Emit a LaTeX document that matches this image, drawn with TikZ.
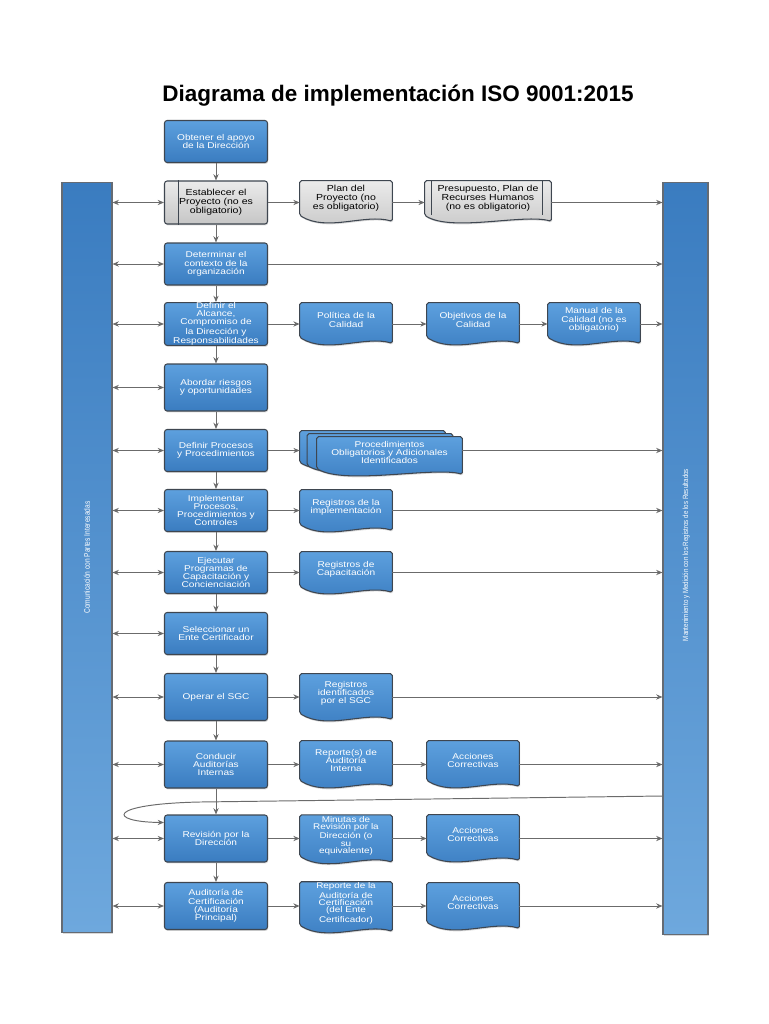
\documentclass[tikz,border=0pt]{standalone}
\usepackage{fontspec}
\setmainfont{Liberation Sans}
\newfontfamily\etire[FakeStretch=1.2]{Liberation Sans}
\newfontfamily\serre[FakeStretch=0.82]{Liberation Sans}
\usetikzlibrary{arrows.meta,shadows,backgrounds}

\definecolor{bleuhaut}{HTML}{5DA0DE}
\definecolor{bleubas}{HTML}{3A7CC0}
\definecolor{bleuclair}{HTML}{6EA8DD}
\definecolor{bord}{HTML}{3E4650}
\definecolor{fleche}{HTML}{6B6B6B}
\definecolor{grisclair}{HTML}{EBEBEB}
\definecolor{grisfonce}{HTML}{C6C6C6}

\newcommand{\petit}{\etire\fontsize{4.8}{4.7}\selectfont}
\newcommand{\serrepetit}{\etire\fontsize{4.7}{4.1}\selectfont}
\newcommand{\moyen}{\etire\fontsize{5.0}{5.1}\selectfont}

% feuille avec le bas en vague
\newcommand{\papier}[2][forme]{%
  \draw[#1] (#2.north west) -- (#2.north east) -- ([yshift=-0.12cm]#2.south east)
    .. controls ([xshift=-0.55cm,yshift=0.04cm]#2.south east) and ([xshift=0.55cm,yshift=-0.34cm]#2.south west)
    .. (#2.south west) -- cycle;}

\begin{document}
\begin{tikzpicture}[x=0.02cm,y=-0.02cm]
\tikzstyle{lien}=[->,>={Stealth[length=3.6pt,width=3pt]},draw=fleche,line width=0.55pt]
\tikzstyle{lien2}=[lien,<->]
\tikzset{ombre/.style={drop shadow={opacity=0.3,shadow xshift=0.4pt,shadow yshift=-0.8pt}},
etape/.style={draw=bord,line width=0.6pt,rounded corners=1.5pt,top color=bleuhaut,bottom color=bleubas,
  text=white,font=\petit,align=center,inner sep=0pt,minimum width=2.06cm,minimum height=#1,ombre},
etape/.default={0.84cm},
etapegrise/.style={etape=#1,top color=grisclair,bottom color=grisfonce,text=black,font=\moyen},
etapegrise/.default={0.86cm},
doc/.style={text=white,font=\petit,align=center,inner sep=0.5pt,minimum width=#1,minimum height=0.68cm},
doc/.default={1.84cm},
docgris/.style={doc=#1,text=black,font=\moyen},
docgris/.default={1.84cm},
forme/.style={draw=bord,line width=0.6pt,rounded corners=1pt,top color=bleuhaut,bottom color=bleubas,ombre},
formegris/.style={forme,top color=grisclair,bottom color=grisfonce},
barre/.style={draw=bord!80,line width=0.6pt,top color=bleubas,bottom color=bleuclair,ombre}}

\useasboundingbox (0,0) rectangle (768,1024);

\node[font=\bfseries\fontsize{12.8}{14}\selectfont] (titre) at (398,96) {Diagrama de implementación ISO 9001:2015};

% barres laterales
\node[barre,minimum width=1cm,minimum height=15.02cm] (gauche) at (87,557.5) {};
\node[barre,minimum width=0.9cm,minimum height=15.06cm] (droite) at (685.5,558.5) {};
\node[rotate=90,text=white,font=\serre\fontsize{4.6}{5}\selectfont] (txtgauche) at (gauche) {Comunicación con Partes Interesadas};
\node[rotate=90,text=white,font=\serre\fontsize{4.3}{5}\selectfont] (txtdroite) at (686,555) {Mantenimiento y Medición con los Registros de los Resultados};

% colonne principale
\node[etape] (obtenir) at (216,141.5) {Obtener el apoyo\\de la Dirección};
\node[etapegrise] (etablir) at (216,202.5) {Establecer el\\Proyecto (no es\\obligatorio)};
\node[etape] (contexte) at (216,264) {Determinar el\\contexto de la\\organización};
\node[etape,font=\etire\fontsize{4.8}{4.45}\selectfont] (alcance) at (216,324) {Definir el\\Alcance,\\Compromiso de\\la Dirección y\\Responsabilidades};
\node[etape=0.94cm] (risques) at (216,387.5) {Abordar riesgos\\y oportunidades};
\node[etape] (procedes) at (216,450.5) {Definir Procesos\\y Procedimientos};
\node[etape] (implementer) at (216,510.5) {Implementar\\Procesos,\\Procedimientos y\\Controles};
\node[etape] (executer) at (216,572.5) {Ejecutar\\Programas de\\Capacitación y\\Concienciación};
\node[etape] (selection) at (216,633.5) {Seleccionar un\\Ente Certificador};
\node[etape=0.94cm] (operer) at (216,697) {Operar el SGC};
\node[etape=0.94cm] (conduire) at (216,764.5) {Conducir\\Auditorías\\Internas};
\node[etape=0.94cm] (revision) at (216,838.5) {Revisión por la\\Dirección};
\node[etape=0.94cm] (certif) at (216,906) {Auditoría de\\Certificación\\(Auditoría\\Principal)};

% documents
\node[docgris] (plan) at (346,198) {Plan del\\Proyecto (no\\es obligatorio)};
\node[docgris=2.52cm] (budget) at (488,198) {Presupuesto, Plan de\\Recurses Humanos\\(no es obligatorio)};
\node[doc] (politique) at (346,320) {Política de la\\Calidad};
\node[doc] (objectifs) at (473,320) {Objetivos de la\\Calidad};
\node[doc] (manuel) at (594,320) {Manual de la\\Calidad (no es\\obligatorio)};
\node[doc=2.9cm,minimum height=0.62cm] (proc3) at (372.5,446.5) {};
\node[doc=2.9cm,minimum height=0.62cm] (proc2) at (380,449.5) {};
\node[doc=2.9cm,minimum height=0.62cm] (proc) at (389.5,452.5) {Procedimientos\\Obligatorios y Adicionales\\Identificados};
\node[doc] (registres) at (346,507) {Registros de la\\implementación};
\node[doc] (capacitation) at (346,569) {Registros de\\Capacitación};
\node[doc,minimum height=0.78cm] (identifies) at (346,693.5) {Registros\\identificados\\por el SGC};
\node[doc,minimum height=0.78cm] (rapport) at (346,760.5) {Reporte(s) de\\Auditoría\\Interna};
\node[doc,minimum height=0.78cm] (actions1) at (473,760.5) {Acciones\\Correctivas};
\node[doc,minimum height=0.78cm,font=\serrepetit] (minutes) at (346,835.5) {Minutas de\\Revisión por la\\Dirección (o\\su\\equivalente)};
\node[doc,minimum height=0.78cm] (actions2) at (473,834.5) {Acciones\\Correctivas};
\node[doc,minimum height=0.78cm,font=\serrepetit] (rapportcert) at (346,903.5) {Reporte de la\\Auditoría de\\Certificación\\(del Ente\\Certificador)};
\node[doc,minimum height=0.78cm] (actions3) at (473,902.5) {Acciones\\Correctivas};

\begin{scope}[on background layer]
\foreach \n in {politique,objectifs,manuel,proc3,proc2,proc,registres,capacitation,identifies,rapport,actions1,minutes,actions2,rapportcert,actions3}
  {\papier{\n}}
\papier[formegris]{plan}
\papier[formegris]{budget}
\end{scope}

% traits des cases grises
\draw[bord,line width=0.4pt] ([xshift=0.28cm]etablir.north west) -- ([xshift=0.28cm]etablir.south west);
\draw[bord,line width=0.4pt] ([xshift=0.14cm]budget.north west) -- ([xshift=0.14cm]budget.south west);
\draw[bord,line width=0.4pt] ([xshift=-0.18cm]budget.north east) -- ([xshift=-0.18cm]budget.south east);

% fleches
\foreach \a/\b in {obtenir/etablir,etablir/contexte,contexte/alcance,alcance/risques,risques/procedes,procedes/implementer,
  implementer/executer,executer/selection,selection/operer,operer/conduire,conduire/revision,revision/certif}
  \draw[lien] (\a) -- (\b);

\foreach \n in {etablir,contexte,alcance,risques,procedes,implementer,executer,selection,operer,conduire,revision,certif}
  \draw[lien2] (gauche.east |- \n) -- (\n.west);

\foreach \de/\vers/\ligne in {etablir/plan/etablir,plan/budget/etablir,budget/droite/etablir,contexte/droite/contexte,
  alcance/politique/alcance,politique/objectifs/alcance,objectifs/manuel/alcance,manuel/droite/alcance,
  procedes/proc3/procedes,proc/droite/procedes,implementer/registres/implementer,registres/droite/implementer,
  executer/capacitation/executer,capacitation/droite/executer,operer/identifies/operer,identifies/droite/operer,
  conduire/rapport/conduire,rapport/actions1/conduire,actions1/droite/conduire,
  revision/minutes/revision,minutes/actions2/revision,actions2/droite/revision,
  certif/rapportcert/certif,rapportcert/actions3/certif,actions3/droite/certif}
  \draw[lien] (\de.east |- \ligne) -- (\vers.west |- \ligne);

% retour vers la revision
\coordinate (retour) at (663,796);
\coordinate (saut) at (200,802);
\draw[lien] (retour) -- (saut) .. controls (105,804) and (108,822) .. ([yshift=0.32cm]revision.west);

\end{tikzpicture}
\end{document}
